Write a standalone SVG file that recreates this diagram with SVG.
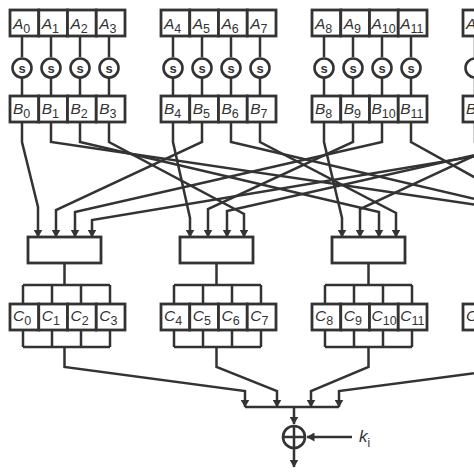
<svg xmlns="http://www.w3.org/2000/svg" width="474" height="474" viewBox="0 0 474 474">
<defs>
<style>
.box{fill:#fff;stroke:#333;stroke-width:2.8}
.ln{fill:none;stroke:#333;stroke-width:2.5;stroke-linejoin:miter}
.ar{fill:none;stroke:#333;stroke-width:2.5;marker-end:url(#ah)}
.sc{fill:#fff;stroke:#333;stroke-width:2.6}
.t{font-family:"Liberation Sans",Arial,sans-serif;font-size:15.5px;font-style:italic;fill:#333}
.sb{font-size:12.5px;font-style:normal}
.s{font-family:"Liberation Sans",Arial,sans-serif;font-size:13px;font-weight:bold;fill:#333;text-anchor:middle}
</style>
<marker id="ah" markerUnits="userSpaceOnUse" markerWidth="8" markerHeight="9" refX="7.5" refY="4.5" orient="auto"><path d="M0,0 L8,4.5 L0,9 z" fill="#333"/></marker>
</defs>
<rect width="474" height="474" fill="#fff"/>

<g id="connectors">
<!-- A to S to B arrows -->
<g id="sbox-arrows">
<path class="ar" d="M22,36V57M51,36V57M80,36V57M109,36V57M173,36V57M202,36V57M231,36V57M260,36V57M324,36V57M353,36V57M382,36V57M411,36V57M475,36V57M504,36V57M533,36V57M562,36V57"/>
<path class="ar" d="M22,78V96M51,78V96M80,78V96M109,78V96M173,78V96M202,78V96M231,78V96M260,78V96M324,78V96M353,78V96M382,78V96M411,78V96M475,78V96M504,78V96M533,78V96M562,78V96"/>
</g>
<g id="permutation">
<polyline class="ar" points="22,122 22,142 38,207 38,237"/>
<polyline class="ar" points="202,122 202,142 56,210 56,237"/>
<polyline class="ar" points="382,122 382,142 75,212 75,237"/>
<polyline class="ar" points="562,122 562,142 92,220 92,237"/>
<polyline class="ar" points="173,122 173,142 190,218 190,237"/>
<polyline class="ar" points="353,122 353,142 208,209 208,237"/>
<polyline class="ar" points="533,122 533,142 227,211 227,237"/>
<polyline class="ar" points="109,122 109,142 244,214 244,237"/>
<polyline class="ar" points="324,122 324,142 342,218 342,237"/>
<polyline class="ar" points="504,122 504,142 360,209 360,237"/>
<polyline class="ar" points="80,122 80,142 379,212 379,237"/>
<polyline class="ar" points="260,122 260,142 396,213 396,237"/>
<polyline class="ar" points="475,122 475,142 494,218 494,237"/>
<polyline class="ar" points="51,122 51,142 512,210 512,237"/>
<polyline class="ar" points="231,122 231,142 531,212 531,237"/>
<polyline class="ar" points="411,122 411,142 548,218 548,237"/>
</g>
<g id="mix-out">
<path class="ln" d="M64.5,263V285M23,285H110M216.5,263V285M174,285H261M368.5,263V285M325,285H412M520.5,263V285M476,285H563"/>
<path class="ar" d="M23,285V304M52,285V304M81,285V304M110,285V304M174,285V304M203,285V304M232,285V304M261,285V304M325,285V304M354,285V304M383,285V304M412,285V304M476,285V304M505,285V304M534,285V304M563,285V304"/>
</g>
<g id="c-out">
<path class="ar" d="M23,330V347M52,330V347M81,330V347M110,330V347M174,330V347M203,330V347M232,330V347M261,330V347M325,330V347M354,330V347M383,330V347M412,330V347M476,330V347M505,330V347M534,330V347M563,330V347"/>
<path class="ln" d="M23,347H110M174,347H261M325,347H412M476,347H563"/>
<polyline class="ar" points="64.5,347 64.5,367 245,391 245,407"/>
<polyline class="ar" points="216.5,347 216.5,367 277,391 277,407"/>
<polyline class="ar" points="368.5,347 368.5,367 311,391 311,407"/>
<polyline class="ar" points="520.5,347 520.5,367 339,391 339,407"/>
<path class="ln" d="M245,407H339"/>
<path class="ar" d="M294,407V424"/>
<path class="ar" d="M352,437H307"/>
<path class="ar" d="M294,449V467"/>
</g>
</g>

<g id="A-0-3">
<rect class="box" x="10" y="10" width="28.75" height="26"/><rect class="box" x="38.75" y="10" width="28.75" height="26"/><rect class="box" x="67.5" y="10" width="28.75" height="26"/><rect class="box" x="96.25" y="10" width="28.75" height="26"/>
<text class="t" x="13" y="28.5">A<tspan class="sb" dy="4">0</tspan></text>
<text class="t" x="41.75" y="28.5">A<tspan class="sb" dy="4">1</tspan></text>
<text class="t" x="70.5" y="28.5">A<tspan class="sb" dy="4">2</tspan></text>
<text class="t" x="99.25" y="28.5">A<tspan class="sb" dy="4">3</tspan></text>
</g>
<g id="A-4-7">
<rect class="box" x="161" y="10" width="28.75" height="26"/><rect class="box" x="189.75" y="10" width="28.75" height="26"/><rect class="box" x="218.5" y="10" width="28.75" height="26"/><rect class="box" x="247.25" y="10" width="28.75" height="26"/>
<text class="t" x="164" y="28.5">A<tspan class="sb" dy="4">4</tspan></text>
<text class="t" x="192.75" y="28.5">A<tspan class="sb" dy="4">5</tspan></text>
<text class="t" x="221.5" y="28.5">A<tspan class="sb" dy="4">6</tspan></text>
<text class="t" x="250.25" y="28.5">A<tspan class="sb" dy="4">7</tspan></text>
</g>
<g id="A-8-11">
<rect class="box" x="312" y="10" width="28.75" height="26"/><rect class="box" x="340.75" y="10" width="28.75" height="26"/><rect class="box" x="369.5" y="10" width="28.75" height="26"/><rect class="box" x="398.25" y="10" width="28.75" height="26"/>
<text class="t" x="315" y="28.5">A<tspan class="sb" dy="4">8</tspan></text>
<text class="t" x="343.75" y="28.5">A<tspan class="sb" dy="4">9</tspan></text>
<text class="t" x="371.5" y="28.5">A<tspan class="sb" dy="4">10</tspan></text>
<text class="t" x="400.25" y="28.5">A<tspan class="sb" dy="4">11</tspan></text>
</g>
<g id="A-12-15">
<rect class="box" x="463" y="10" width="28.75" height="26"/><rect class="box" x="491.75" y="10" width="28.75" height="26"/>
<text class="t" x="466" y="28.5">A<tspan class="sb" dy="4">12</tspan></text>
</g>

<g id="S-boxes">
<g id="s0"><circle class="sc" cx="22" cy="68" r="9.5"/><text class="s" x="22" y="72.5">s</text></g>
<g id="s1"><circle class="sc" cx="51" cy="68" r="9.5"/><text class="s" x="51" y="72.5">s</text></g>
<g id="s2"><circle class="sc" cx="80" cy="68" r="9.5"/><text class="s" x="80" y="72.5">s</text></g>
<g id="s3"><circle class="sc" cx="109" cy="68" r="9.5"/><text class="s" x="109" y="72.5">s</text></g>
<g id="s4"><circle class="sc" cx="173" cy="68" r="9.5"/><text class="s" x="173" y="72.5">s</text></g>
<g id="s5"><circle class="sc" cx="202" cy="68" r="9.5"/><text class="s" x="202" y="72.5">s</text></g>
<g id="s6"><circle class="sc" cx="231" cy="68" r="9.5"/><text class="s" x="231" y="72.5">s</text></g>
<g id="s7"><circle class="sc" cx="260" cy="68" r="9.5"/><text class="s" x="260" y="72.5">s</text></g>
<g id="s8"><circle class="sc" cx="324" cy="68" r="9.5"/><text class="s" x="324" y="72.5">s</text></g>
<g id="s9"><circle class="sc" cx="353" cy="68" r="9.5"/><text class="s" x="353" y="72.5">s</text></g>
<g id="s10"><circle class="sc" cx="382" cy="68" r="9.5"/><text class="s" x="382" y="72.5">s</text></g>
<g id="s11"><circle class="sc" cx="411" cy="68" r="9.5"/><text class="s" x="411" y="72.5">s</text></g>
<g id="s12"><circle class="sc" cx="475" cy="68" r="9.5"/></g>
</g>

<g id="B-0-3">
<rect class="box" x="10" y="96" width="28.75" height="26"/><rect class="box" x="38.75" y="96" width="28.75" height="26"/><rect class="box" x="67.5" y="96" width="28.75" height="26"/><rect class="box" x="96.25" y="96" width="28.75" height="26"/>
<text class="t" x="13" y="113.5">B<tspan class="sb" dy="4">0</tspan></text>
<text class="t" x="41.75" y="113.5">B<tspan class="sb" dy="4">1</tspan></text>
<text class="t" x="70.5" y="113.5">B<tspan class="sb" dy="4">2</tspan></text>
<text class="t" x="99.25" y="113.5">B<tspan class="sb" dy="4">3</tspan></text>
</g>
<g id="B-4-7">
<rect class="box" x="161" y="96" width="28.75" height="26"/><rect class="box" x="189.75" y="96" width="28.75" height="26"/><rect class="box" x="218.5" y="96" width="28.75" height="26"/><rect class="box" x="247.25" y="96" width="28.75" height="26"/>
<text class="t" x="164" y="113.5">B<tspan class="sb" dy="4">4</tspan></text>
<text class="t" x="192.75" y="113.5">B<tspan class="sb" dy="4">5</tspan></text>
<text class="t" x="221.5" y="113.5">B<tspan class="sb" dy="4">6</tspan></text>
<text class="t" x="250.25" y="113.5">B<tspan class="sb" dy="4">7</tspan></text>
</g>
<g id="B-8-11">
<rect class="box" x="312" y="96" width="28.75" height="26"/><rect class="box" x="340.75" y="96" width="28.75" height="26"/><rect class="box" x="369.5" y="96" width="28.75" height="26"/><rect class="box" x="398.25" y="96" width="28.75" height="26"/>
<text class="t" x="315" y="113.5">B<tspan class="sb" dy="4">8</tspan></text>
<text class="t" x="343.75" y="113.5">B<tspan class="sb" dy="4">9</tspan></text>
<text class="t" x="371.5" y="113.5">B<tspan class="sb" dy="4">10</tspan></text>
<text class="t" x="400.25" y="113.5">B<tspan class="sb" dy="4">11</tspan></text>
</g>
<g id="B-12-15">
<rect class="box" x="463" y="96" width="28.75" height="26"/><rect class="box" x="491.75" y="96" width="28.75" height="26"/>
<text class="t" x="466" y="113.5">B<tspan class="sb" dy="4">12</tspan></text>
</g>

<g id="mix0"><rect class="box" x="28" y="237" width="73" height="26"/></g>
<g id="mix1"><rect class="box" x="180" y="237" width="73" height="26"/></g>
<g id="mix2"><rect class="box" x="332" y="237" width="73" height="26"/></g>
<g id="mix3"><rect class="box" x="484" y="237" width="73" height="26"/></g>

<g id="C-0-3">
<rect class="box" x="10" y="304" width="28.75" height="26"/><rect class="box" x="38.75" y="304" width="28.75" height="26"/><rect class="box" x="67.5" y="304" width="28.75" height="26"/><rect class="box" x="96.25" y="304" width="28.75" height="26"/>
<text class="t" x="13" y="320.5">C<tspan class="sb" dy="4">0</tspan></text>
<text class="t" x="41.75" y="320.5">C<tspan class="sb" dy="4">1</tspan></text>
<text class="t" x="70.5" y="320.5">C<tspan class="sb" dy="4">2</tspan></text>
<text class="t" x="99.25" y="320.5">C<tspan class="sb" dy="4">3</tspan></text>
</g>
<g id="C-4-7">
<rect class="box" x="161" y="304" width="28.75" height="26"/><rect class="box" x="189.75" y="304" width="28.75" height="26"/><rect class="box" x="218.5" y="304" width="28.75" height="26"/><rect class="box" x="247.25" y="304" width="28.75" height="26"/>
<text class="t" x="164" y="320.5">C<tspan class="sb" dy="4">4</tspan></text>
<text class="t" x="192.75" y="320.5">C<tspan class="sb" dy="4">5</tspan></text>
<text class="t" x="221.5" y="320.5">C<tspan class="sb" dy="4">6</tspan></text>
<text class="t" x="250.25" y="320.5">C<tspan class="sb" dy="4">7</tspan></text>
</g>
<g id="C-8-11">
<rect class="box" x="312" y="304" width="28.75" height="26"/><rect class="box" x="340.75" y="304" width="28.75" height="26"/><rect class="box" x="369.5" y="304" width="28.75" height="26"/><rect class="box" x="398.25" y="304" width="28.75" height="26"/>
<text class="t" x="315" y="320.5">C<tspan class="sb" dy="4">8</tspan></text>
<text class="t" x="343.75" y="320.5">C<tspan class="sb" dy="4">9</tspan></text>
<text class="t" x="371.5" y="320.5">C<tspan class="sb" dy="4">10</tspan></text>
<text class="t" x="400.25" y="320.5">C<tspan class="sb" dy="4">11</tspan></text>
</g>
<g id="C-12-15">
<rect class="box" x="463" y="304" width="28.75" height="26"/><rect class="box" x="491.75" y="304" width="28.75" height="26"/>
<text class="t" x="466" y="320.5">C<tspan class="sb" dy="4">12</tspan></text>
</g>

<g id="xor">
<circle class="sc" cx="294" cy="437" r="11"/>
<path class="ln" d="M283,437H305M294,426V448"/>
</g>
<g id="key">
<text class="t" x="359" y="442" style="font-size:17px">k<tspan class="sb" dy="5" style="font-size:12px">i</tspan></text>
</g>
</svg>
